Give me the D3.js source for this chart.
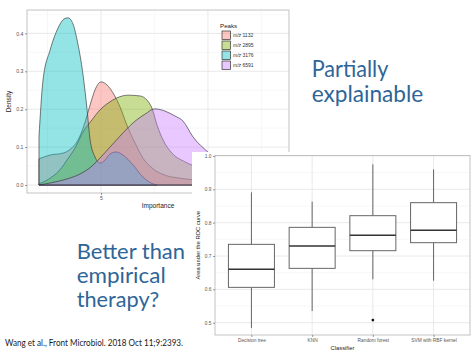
<!DOCTYPE html>
<html><head><meta charset="utf-8">
<script src="https://cdn.jsdelivr.net/npm/d3@7"></script>
<style>body{margin:0;background:#fff;overflow:hidden}</style>
</head><body>
<svg id="c" width="474" height="355"></svg>
<script>
// ---------- Data: density plot ----------
const peaks = ["1132", "2895", "3176", "6591"];
const peakColors = ["#F8766D", "#7CAE00", "#00BFC4", "#C77CFF"];
const dens1132 = [[2.10,0.069],[2.62,0.079],[3.22,0.084],[3.64,0.098],[3.93,0.119],[4.21,0.158],[4.49,0.211],[4.72,0.251],[5.0,0.272],[5.28,0.264],[5.56,0.243],[5.89,0.206],[6.21,0.158],[6.59,0.111],[6.96,0.071],[7.38,0.045],[7.99,0.026],[8.69,0.018],[9.39,0.013],[10.33,0.005],[11.5,0.0]];
const dens2895 = [[2.10,0.003],[2.62,0.018],[3.08,0.040],[3.41,0.066],[3.79,0.098],[4.16,0.140],[4.58,0.172],[4.95,0.198],[5.33,0.216],[5.75,0.230],[6.26,0.237],[6.82,0.235],[7.15,0.224],[7.38,0.203],[7.62,0.158],[7.90,0.119],[8.32,0.084],[8.93,0.061],[9.63,0.045],[10.56,0.029],[11.73,0.013],[12.9,0.003]];
const dens3176 = [[2.10,0.127],[2.29,0.277],[2.62,0.356],[2.99,0.414],[3.27,0.438],[3.46,0.441],[3.69,0.425],[3.93,0.369],[4.11,0.311],[4.35,0.198],[4.49,0.119],[4.72,0.074],[4.95,0.058],[5.19,0.066],[5.42,0.082],[5.70,0.087],[6.03,0.079],[6.50,0.053],[6.96,0.021],[7.43,0.003],[7.6,0.0]];
const dens6591 = [[2.10,0.0],[2.85,0.008],[3.41,0.016],[4.02,0.029],[4.58,0.050],[4.95,0.071],[5.42,0.100],[5.89,0.129],[6.50,0.164],[7.06,0.187],[7.52,0.201],[7.99,0.195],[8.46,0.182],[8.83,0.169],[9.30,0.127],[10.0,0.087],[10.79,0.053],[11.73,0.024],[12.66,0.008],[13.36,0.0]];
const densitySeries = [dens1132, dens2895, dens3176, dens6591];
const densTicksY = [0, 0.1, 0.2, 0.3, 0.4];
const densTicksX = [5];

// ---------- Data: boxplot ----------
const classifiers = ["Decision tree", "KNN", "Random forest", "SVM with RBF kernel"];
const whiskerLow  = [0.484, 0.535, 0.630, 0.626];
const q1          = [0.606, 0.663, 0.716, 0.740];
const median      = [0.660, 0.730, 0.762, 0.777];
const q3          = [0.735, 0.786, 0.821, 0.860];
const whiskerHigh = [0.891, 0.863, 0.975, 0.960];
const outlierClass = ["Random forest"];
const outlierValue = [0.508];
const aucTicks = [0.5, 0.6, 0.7, 0.8, 0.9, 1.0];

const svg = d3.select("#c");
const FONT = "'Liberation Sans', Arial, sans-serif";
const SLIDE = "Lato, 'Open Sans', sans-serif";

// ================= Density chart =================
const dL = 27, dR = 289, dT = 10, dB = 193;
const dx = d3.scaleLinear().domain([1.54, 13.79]).range([dL, dR]);
const dy = d3.scaleLinear().domain([-0.0211, 0.4617]).range([dB, dT]);
const g1 = svg.append("g");
g1.append("rect").attr("x", dL).attr("y", dT).attr("width", dR - dL).attr("height", dB - dT).attr("fill", "#fff");
[2.5, 7.5, 12.5].forEach(v => g1.append("line").attr("x1", dx(v)).attr("x2", dx(v)).attr("y1", dT).attr("y2", dB).attr("stroke", "#f2f2f2").attr("stroke-width", 0.6));
[0.05, 0.15, 0.25, 0.35, 0.45].forEach(v => g1.append("line").attr("x1", dL).attr("x2", dR).attr("y1", dy(v)).attr("y2", dy(v)).attr("stroke", "#f2f2f2").attr("stroke-width", 0.6));
[5, 10].forEach(v => g1.append("line").attr("x1", dx(v)).attr("x2", dx(v)).attr("y1", dT).attr("y2", dB).attr("stroke", "#e6e6e6").attr("stroke-width", 0.9));
densTicksY.forEach(v => g1.append("line").attr("x1", dL).attr("x2", dR).attr("y1", dy(v)).attr("y2", dy(v)).attr("stroke", "#e6e6e6").attr("stroke-width", 0.9));

const area = d3.area().x(d => dx(d[0])).y0(dy(0)).y1(d => dy(d[1])).curve(d3.curveMonotoneX);
densitySeries.forEach((s, i) => {
  g1.append("path").attr("d", area(s)).attr("fill", peakColors[i]).attr("fill-opacity", 0.42)
    .attr("stroke", "#333").attr("stroke-opacity", 0.8).attr("stroke-width", 0.8);
});
g1.append("rect").attr("x", dL).attr("y", dT).attr("width", dR - dL).attr("height", dB - dT).attr("fill", "none").attr("stroke", "#b5b5b5").attr("stroke-width", 0.8);

const ay1 = d3.axisLeft(dy).tickValues(densTicksY).tickFormat(d3.format(".1f")).tickSize(2).tickPadding(1.5);
const gy1 = g1.append("g").attr("transform", `translate(${dL},0)`).call(ay1);
const ax1 = d3.axisBottom(dx).tickValues(densTicksX).tickFormat(d3.format("d")).tickSize(2).tickPadding(1.5);
const gx1 = g1.append("g").attr("transform", `translate(0,${dB})`).call(ax1);
[gy1, gx1].forEach(g => {
  g.select(".domain").remove();
  g.selectAll("line").attr("stroke", "#555").attr("stroke-width", 0.6);
  g.selectAll("text").attr("font-family", FONT).attr("font-size", 5.2).attr("fill", "#555");
});
g1.append("text").attr("transform", `translate(11,${(dT + dB) / 2}) rotate(-90)`).attr("text-anchor", "middle")
  .attr("font-family", FONT).attr("font-size", 6.5).attr("fill", "#222").text("Density");
g1.append("text").attr("x", 158).attr("y", 208).attr("text-anchor", "middle")
  .attr("font-family", FONT).attr("font-size", 6.5).attr("fill", "#222").text("Importance");

const lg = g1.append("g");
lg.append("text").attr("x", 220).attr("y", 27.5).attr("font-family", FONT).attr("font-size", 6.2).attr("fill", "#222").text("Peaks");
peaks.forEach((p, i) => {
  const y0 = 31 + i * 10;
  lg.append("rect").attr("x", 222).attr("y", y0).attr("width", 8.5).attr("height", 8.5)
    .attr("fill", peakColors[i]).attr("fill-opacity", 0.42).attr("stroke", "#333").attr("stroke-width", 0.7);
  const t = lg.append("text").attr("x", 233).attr("y", y0 + 6.3).attr("font-family", FONT).attr("font-size", 5).attr("fill", "#333");
  t.append("tspan").attr("font-style", "italic").text("m/z");
  t.append("tspan").text(" " + p);
});

// ================= Box plot =================
const g2 = svg.append("g");
g2.append("rect").attr("x", 192).attr("y", 152).attr("width", 282).attr("height", 203).attr("fill", "#fff");
const bL = 215, bR = 470, bT = 155.5, bB = 335;
const bx = d3.scalePoint().domain(classifiers).range([bL, bR]).padding(0.6);
const by = d3.scaleLinear().domain([0.4631, 1.0015]).range([bB, bT]);
[0.55, 0.65, 0.75, 0.85, 0.95].forEach(v => g2.append("line").attr("x1", bL).attr("x2", bR).attr("y1", by(v)).attr("y2", by(v)).attr("stroke", "#f2f2f2").attr("stroke-width", 0.6));
aucTicks.forEach(v => g2.append("line").attr("x1", bL).attr("x2", bR).attr("y1", by(v)).attr("y2", by(v)).attr("stroke", "#e6e6e6").attr("stroke-width", 0.9));
classifiers.forEach(c => g2.append("line").attr("x1", bx(c)).attr("x2", bx(c)).attr("y1", bT).attr("y2", bB).attr("stroke", "#e6e6e6").attr("stroke-width", 0.9));

const bw = 46;
classifiers.forEach((c, i) => {
  const x = bx(c);
  g2.append("line").attr("x1", x).attr("x2", x).attr("y1", by(whiskerHigh[i])).attr("y2", by(q3[i])).attr("stroke", "#666").attr("stroke-width", 1);
  g2.append("line").attr("x1", x).attr("x2", x).attr("y1", by(q1[i])).attr("y2", by(whiskerLow[i])).attr("stroke", "#666").attr("stroke-width", 1);
  g2.append("rect").attr("x", x - bw / 2).attr("y", by(q3[i])).attr("width", bw).attr("height", by(q1[i]) - by(q3[i]))
    .attr("fill", "#fff").attr("stroke", "#666").attr("stroke-width", 1);
  g2.append("line").attr("x1", x - bw / 2).attr("x2", x + bw / 2).attr("y1", by(median[i])).attr("y2", by(median[i])).attr("stroke", "#333").attr("stroke-width", 1.5);
});
outlierClass.forEach((c, i) => g2.append("circle").attr("cx", bx(c)).attr("cy", by(outlierValue[i])).attr("r", 1.4).attr("fill", "#111"));
g2.append("rect").attr("x", bL).attr("y", bT).attr("width", bR - bL).attr("height", bB - bT).attr("fill", "none").attr("stroke", "#b5b5b5").attr("stroke-width", 0.8);

const ay2 = d3.axisLeft(by).tickValues(aucTicks).tickFormat(d3.format(".1f")).tickSize(2).tickPadding(1.5);
const gy2 = g2.append("g").attr("transform", `translate(${bL},0)`).call(ay2);
const ax2 = d3.axisBottom(bx).tickSize(2).tickPadding(1.2);
const gx2 = g2.append("g").attr("transform", `translate(0,${bB})`).call(ax2);
[gy2, gx2].forEach(g => {
  g.select(".domain").remove();
  g.selectAll("line").attr("stroke", "#555").attr("stroke-width", 0.6);
  g.selectAll("text").attr("font-family", FONT).attr("font-size", 4.8).attr("fill", "#555");
});
g2.append("text").attr("transform", `translate(200,${(bT + bB) / 2}) rotate(-90)`).attr("text-anchor", "middle")
  .attr("font-family", FONT).attr("font-size", 5.8).attr("fill", "#222").text("Area under the ROC curve");
g2.append("text").attr("x", (bL + bR) / 2).attr("y", 350).attr("text-anchor", "middle")
  .attr("font-family", FONT).attr("font-size", 5.8).attr("fill", "#222").text("Classifier");

// ================= Slide text =================
const blue = "#2f6597";
const slideLines = [
  {t: "Partially", x: 311.7, y: 77.3, w: 76.6, s: 22.5},
  {t: "explainable", x: 311.7, y: 102.3, w: 111.6, s: 22.5},
  {t: "Better than", x: 76.7, y: 258.6, w: 108.3, s: 21.2},
  {t: "empirical", x: 76.7, y: 282.7, w: 89, s: 21.2},
  {t: "therapy?", x: 76.7, y: 306.8, w: 82.6, s: 21.2}
];
slideLines.forEach(l => svg.append("text").attr("x", l.x).attr("y", l.y).attr("font-family", SLIDE).attr("font-size", l.s)
  .attr("fill", blue).attr("textLength", l.w).attr("lengthAdjust", "spacingAndGlyphs").text(l.t));
svg.append("text").attr("x", 5).attr("y", 345.7).attr("font-family", SLIDE).attr("font-size", 9.5).attr("fill", "#1a1a1a")
  .attr("textLength", 178).attr("lengthAdjust", "spacingAndGlyphs").text("Wang et al., Front Microbiol. 2018 Oct 11;9:2393.");
</script>
</body></html>
